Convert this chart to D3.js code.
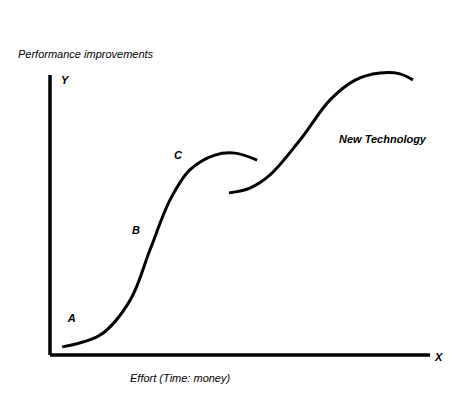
<!DOCTYPE html>
<html>
<head>
<meta charset="utf-8">
<script src="https://cdn.jsdelivr.net/npm/d3@7"></script>
<style>
  body { margin: 0; background: #fff; }
  text { font-family: Arial, "Liberation Sans", sans-serif; font-style: italic; fill: #000; }
</style>
</head>
<body>
<script>
// old technology S-curve (effort, performance)
const oldEffort = [3.2, 13.2, 21.1, 26.3, 31.6, 36.8, 43.4, 48.7, 54.5];
const oldPerf   = [2.9, 7.1, 19.6, 37.5, 55.4, 66.1, 71.4, 72.1, 69.6];
// new technology S-curve
const newEffort = [47.1, 52.6, 57.9, 65.8, 73.7, 80.3, 86.8, 92.1, 95.5];
const newPerf   = [57.9, 59.6, 64.3, 76.8, 91.1, 98.2, 100.7, 100.4, 98.2];
// point labels on the old curve
const pointNames = ['A', 'B', 'C'];
const pointX = [4.7, 21.6, 32.6];
const pointY = [11.8, 43.2, 70.0];

const width = 474, height = 414;
const x = d3.scaleLinear().domain([0, 100]).range([50, 430]);
const y = d3.scaleLinear().domain([0, 100]).range([355, 75]);

const svg = d3.select('body').append('svg')
    .attr('width', width)
    .attr('height', height);

// axes drawn as plain thick lines
svg.append('line')
    .attr('x1', x(0)).attr('y1', y(0))
    .attr('x2', x(0)).attr('y2', y(100))
    .attr('stroke', 'black').attr('stroke-width', 3.5);
svg.append('line')
    .attr('x1', x(0)).attr('y1', y(0))
    .attr('x2', x(100)).attr('y2', y(0))
    .attr('stroke', 'black').attr('stroke-width', 3.5);

let line = d3.line()
    .x((d) => x(d[0]))
    .y((d) => y(d[1]))
    .curve(d3.curveCatmullRom);

svg.append('path')
    .attr('d', line(d3.zip(oldEffort, oldPerf)))
    .attr('fill', 'none').attr('stroke', 'black').attr('stroke-width', 3);
svg.append('path')
    .attr('d', line(d3.zip(newEffort, newPerf)))
    .attr('fill', 'none').attr('stroke', 'black').attr('stroke-width', 3);

svg.selectAll('.pt')
    .data(pointNames)
    .enter().append('text')
    .attr('x', (d, i) => x(pointX[i]))
    .attr('y', (d, i) => y(pointY[i]))
    .attr('font-size', 11).attr('font-weight', 'bold')
    .text((d) => d);

svg.append('text').attr('x', 18).attr('y', 58).attr('font-size', 11)
    .text('Performance   improvements');
svg.append('text').attr('x', 61).attr('y', 84).attr('font-size', 11).attr('font-weight', 'bold')
    .text('Y');
svg.append('text').attr('x', 435).attr('y', 361).attr('font-size', 11).attr('font-weight', 'bold')
    .text('X');
svg.append('text').attr('x', 130).attr('y', 382).attr('font-size', 11)
    .text('Effort (Time: money)');
svg.append('text').attr('x', 339).attr('y', 143).attr('font-size', 11).attr('font-weight', 'bold')
    .text('New Technology');
</script>
</body>
</html>
